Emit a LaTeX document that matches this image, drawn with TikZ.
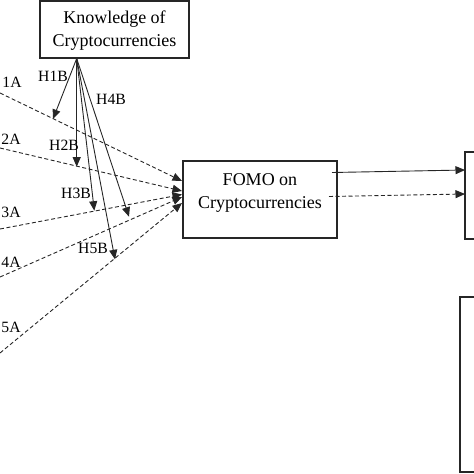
\documentclass[tikz,border=0pt]{standalone}
\usepackage{fontspec}
\setmainfont{Liberation Serif}
\usetikzlibrary{arrows.meta}
\begin{document}
\begin{tikzpicture}[x=1pt,y=-1pt,
  boxst/.style={draw=black!85,line width=1.8pt,inner sep=0pt},
  boxtext/.style={font=\fontsize{18}{23}\selectfont,align=center,inner sep=0pt},
  lab/.style={font=\fontsize{15.7}{18}\selectfont,inner sep=0pt},
  arr/.style={draw=black!85,line width=0.9pt,-{Triangle[length=9.5pt,width=8pt]}},
  darr/.style={arr,dash pattern=on 4pt off 2.5pt}]
\useasboundingbox (0,0) rectangle (474,474);
\clip (0,0) rectangle (474,474);
% boxes
\node[boxst,minimum width=149pt,minimum height=57pt] (know) at (114.5,29.5) {};
\node[boxtext] (knowt) at (114.5,30.5) {Knowledge of\\Cryptocurrencies};
\node[boxst,minimum width=154pt,minimum height=77pt] (fomo) at (260,199.5) {};
\node[boxtext] (fomot) at (260,193) {FOMO on\\Cryptocurrencies};
\node[boxst,minimum width=40pt,minimum height=87pt] (rbox1) at (485,195.5) {};
\node[boxst,minimum width=50pt,minimum height=175pt] (rbox2) at (485,384.5) {};
% knowledge arrows
\coordinate (ko) at (76.7,58.5);
\coordinate (t1) at (53,119);
\coordinate (t2) at (76.7,166.7);
\coordinate (t3) at (94.3,210.7);
\coordinate (t4) at (129,216.7);
\coordinate (t5) at (115,259.3);
\draw[arr] (ko) -- (t1);
\draw[arr] (ko) -- (t2);
\draw[arr] (ko) -- (t3);
\draw[arr] (ko) -- (t4);
\draw[arr] (ko) -- (t5);
% left dashed lines
\coordinate (s1) at (0,93);
\coordinate (s2) at (0,148);
\coordinate (s3) at (0,229);
\coordinate (s4) at (0,277);
\coordinate (s5) at (0,353);
\coordinate (e1) at (182,181);
\coordinate (e2) at (182,191);
\coordinate (e3) at (182,194.5);
\coordinate (e4) at (182,197);
\coordinate (e5) at (182,203);
\draw[darr] (s1) -- (e1);
\draw[darr] (s2) -- (e2);
\draw[darr] (s3) -- (e3);
\draw[darr] (s4) -- (e4);
\draw[darr] (s5) -- (e5);
% right arrows
\coordinate (f1) at (332,172.5);
\coordinate (f2) at (329,196.5);
\coordinate (r1) at (465,170);
\coordinate (r2) at (465,194);
\draw[arr] (f1) -- (r1);
\draw[darr] (f2) -- (r2);
% labels
\node[lab] (l1a) at (12,82) {1A};
\node[lab] (l2a) at (11,139) {2A};
\node[lab] (l3a) at (11,212) {3A};
\node[lab] (l4a) at (11,262) {4A};
\node[lab] (l5a) at (11,327) {5A};
\node[lab] (h1b) at (53,76) {H1B};
\node[lab] (h4b) at (111,99) {H4B};
\node[lab] (h2b) at (64,145) {H2B};
\node[lab] (h3b) at (76,193) {H3B};
\node[lab] (h5b) at (93,248) {H5B};
\end{tikzpicture}
\end{document}
